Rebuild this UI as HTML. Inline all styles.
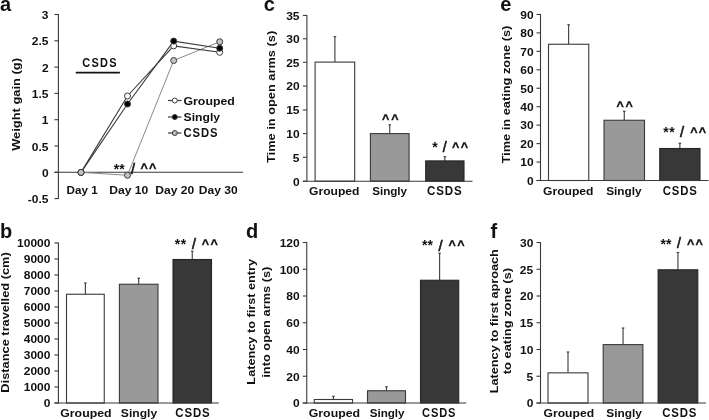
<!DOCTYPE html>
<html><head><meta charset="utf-8"><title>Figure</title>
<style>
html,body{margin:0;padding:0;background:#fff;}
svg{display:block;}
text{font-family:"Liberation Sans",Arial,Helvetica,sans-serif;fill:#111;}
</style></head><body>
<svg width="709" height="420" viewBox="0 0 709 420">
<rect x="0" y="0" width="709" height="420" fill="#ffffff"/>
<line x1="58.4" y1="14.0" x2="58.4" y2="199.1" stroke="#3a3a3a" stroke-width="1.1"/>
<line x1="54.4" y1="14.5" x2="58.4" y2="14.5" stroke="#3a3a3a" stroke-width="1.1"/>
<text x="41.86" y="19.0" font-size="11.6" font-weight="bold" textLength="6.67" lengthAdjust="spacingAndGlyphs">3</text>
<line x1="54.4" y1="40.8" x2="58.4" y2="40.8" stroke="#3a3a3a" stroke-width="1.1"/>
<text x="31.72" y="45.3" font-size="11.6" font-weight="bold" textLength="16.68" lengthAdjust="spacingAndGlyphs">2.5</text>
<line x1="54.4" y1="67.1" x2="58.4" y2="67.1" stroke="#3a3a3a" stroke-width="1.1"/>
<text x="41.92" y="71.6" font-size="11.6" font-weight="bold" textLength="6.67" lengthAdjust="spacingAndGlyphs">2</text>
<line x1="54.4" y1="93.4" x2="58.4" y2="93.4" stroke="#3a3a3a" stroke-width="1.1"/>
<text x="31.72" y="97.9" font-size="11.6" font-weight="bold" textLength="16.68" lengthAdjust="spacingAndGlyphs">1.5</text>
<line x1="54.4" y1="119.7" x2="58.4" y2="119.7" stroke="#3a3a3a" stroke-width="1.1"/>
<text x="41.74" y="124.2" font-size="11.6" font-weight="bold" textLength="6.67" lengthAdjust="spacingAndGlyphs">1</text>
<line x1="54.4" y1="146.0" x2="58.4" y2="146.0" stroke="#3a3a3a" stroke-width="1.1"/>
<text x="31.72" y="150.5" font-size="11.6" font-weight="bold" textLength="16.68" lengthAdjust="spacingAndGlyphs">0.5</text>
<line x1="54.4" y1="172.3" x2="58.4" y2="172.3" stroke="#3a3a3a" stroke-width="1.1"/>
<text x="41.92" y="176.8" font-size="11.6" font-weight="bold" textLength="6.67" lengthAdjust="spacingAndGlyphs">0</text>
<line x1="54.4" y1="198.6" x2="58.4" y2="198.6" stroke="#3a3a3a" stroke-width="1.1"/>
<text x="27.76" y="203.1" font-size="11.6" font-weight="bold" textLength="20.68" lengthAdjust="spacingAndGlyphs">-0.5</text>
<line x1="54.4" y1="172.3" x2="243" y2="172.3" stroke="#3a3a3a" stroke-width="1.1"/>
<polyline fill="none" stroke="#8a8a8a" stroke-width="1" points="81,172.4 127.5,175.25 173.7,60.5 219.7,41.75"/>
<polyline fill="none" stroke="#3a3a3a" stroke-width="1.1" points="81,172.4 127.5,96 173.7,45.9 219.7,52.3"/>
<polyline fill="none" stroke="#3a3a3a" stroke-width="1.1" points="81,172.4 127.5,104 173.7,41.1 219.7,48.2"/>
<circle cx="81" cy="172.4" r="3.0" fill="#fff" stroke="#3a3a3a" stroke-width="1"/>
<circle cx="127.5" cy="96" r="3.0" fill="#fff" stroke="#3a3a3a" stroke-width="1"/>
<circle cx="173.7" cy="45.9" r="3.0" fill="#fff" stroke="#3a3a3a" stroke-width="1"/>
<circle cx="219.7" cy="52.3" r="3.0" fill="#fff" stroke="#3a3a3a" stroke-width="1"/>
<circle cx="81" cy="172.4" r="3.0" fill="#000" stroke="#3a3a3a" stroke-width="1"/>
<circle cx="127.5" cy="104" r="3.0" fill="#000" stroke="#3a3a3a" stroke-width="1"/>
<circle cx="173.7" cy="41.1" r="3.0" fill="#000" stroke="#3a3a3a" stroke-width="1"/>
<circle cx="219.7" cy="48.2" r="3.0" fill="#000" stroke="#3a3a3a" stroke-width="1"/>
<circle cx="81" cy="172.4" r="3.0" fill="#c4c4c4" stroke="#3a3a3a" stroke-width="1"/>
<circle cx="127.5" cy="175.25" r="3.0" fill="#c4c4c4" stroke="#3a3a3a" stroke-width="1"/>
<circle cx="173.7" cy="60.5" r="3.0" fill="#c4c4c4" stroke="#3a3a3a" stroke-width="1"/>
<circle cx="219.7" cy="41.75" r="3.0" fill="#c4c4c4" stroke="#3a3a3a" stroke-width="1"/>
<line x1="75.75" y1="72.6" x2="119.9" y2="72.6" stroke="#111" stroke-width="1.6"/>
<text x="82.25" y="66.8" font-size="12" font-weight="bold" letter-spacing="1.4" textLength="35.6" lengthAdjust="spacingAndGlyphs">CSDS</text>
<line x1="168" y1="100.5" x2="181.4" y2="100.5" stroke="#3a3a3a" stroke-width="1.2"/>
<circle cx="174.8" cy="100.5" r="2.5" fill="#fff" stroke="#3a3a3a" stroke-width="1"/>
<text x="183.51" y="104.8" font-size="11.6" font-weight="bold" textLength="51.31" lengthAdjust="spacingAndGlyphs">Grouped</text>
<line x1="168" y1="117" x2="181.4" y2="117" stroke="#3a3a3a" stroke-width="1.2"/>
<circle cx="174.8" cy="117" r="2.5" fill="#000" stroke="#3a3a3a" stroke-width="1"/>
<text x="183.64" y="121.3" font-size="11.6" font-weight="bold" textLength="36.43" lengthAdjust="spacingAndGlyphs">Singly</text>
<line x1="168" y1="133" x2="181.4" y2="133" stroke="#3a3a3a" stroke-width="1.2"/>
<circle cx="174.8" cy="133" r="2.5" fill="#bdbdbd" stroke="#3a3a3a" stroke-width="1"/>
<text x="183.55" y="137.3" font-size="12" font-weight="bold" letter-spacing="0.9" textLength="34.73" lengthAdjust="spacingAndGlyphs">CSDS</text>
<text x="113.76" y="173.53" font-size="14" font-weight="bold" letter-spacing="0.08">**</text>
<text x="130.9" y="173.93" font-size="14.38" font-weight="normal" stroke="#111" stroke-width="0.6">/</text>
<text x="140.42" y="172.2" font-size="12.5" font-weight="bold" letter-spacing="1.36" stroke="#111" stroke-width="0.35">^^</text>
<text x="66.54" y="194" font-size="11.6" font-weight="bold" textLength="31.09" lengthAdjust="spacingAndGlyphs">Day 1</text>
<text x="109.21" y="194" font-size="11.6" font-weight="bold" textLength="38.96" lengthAdjust="spacingAndGlyphs">Day 10</text>
<text x="155.21" y="194" font-size="11.6" font-weight="bold" textLength="38.96" lengthAdjust="spacingAndGlyphs">Day 20</text>
<text x="198.82" y="194" font-size="11.6" font-weight="bold" textLength="38.86" lengthAdjust="spacingAndGlyphs">Day 30</text>
<text x="20.4" y="150.8" font-size="11.6" font-weight="bold" textLength="92.82" lengthAdjust="spacingAndGlyphs" transform="rotate(-90 20.4 150.8)">Weight gain (g)</text>
<text x="0" y="11.3" font-size="20" font-weight="bold">a</text>
<line x1="58.4" y1="242.5" x2="58.4" y2="403.5" stroke="#3a3a3a" stroke-width="1.1"/>
<line x1="54.4" y1="403.0" x2="58.4" y2="403.0" stroke="#3a3a3a" stroke-width="1.1"/>
<text x="43.82" y="407.3" font-size="11.6" font-weight="bold" textLength="6.67" lengthAdjust="spacingAndGlyphs">0</text>
<line x1="54.4" y1="387.0" x2="58.4" y2="387.0" stroke="#3a3a3a" stroke-width="1.1"/>
<text x="23.78" y="391.3" font-size="11.6" font-weight="bold" textLength="26.7" lengthAdjust="spacingAndGlyphs">1000</text>
<line x1="54.4" y1="371.0" x2="58.4" y2="371.0" stroke="#3a3a3a" stroke-width="1.1"/>
<text x="23.78" y="375.3" font-size="11.6" font-weight="bold" textLength="26.7" lengthAdjust="spacingAndGlyphs">2000</text>
<line x1="54.4" y1="355.0" x2="58.4" y2="355.0" stroke="#3a3a3a" stroke-width="1.1"/>
<text x="23.78" y="359.3" font-size="11.6" font-weight="bold" textLength="26.7" lengthAdjust="spacingAndGlyphs">3000</text>
<line x1="54.4" y1="339.0" x2="58.4" y2="339.0" stroke="#3a3a3a" stroke-width="1.1"/>
<text x="23.78" y="343.3" font-size="11.6" font-weight="bold" textLength="26.7" lengthAdjust="spacingAndGlyphs">4000</text>
<line x1="54.4" y1="323.0" x2="58.4" y2="323.0" stroke="#3a3a3a" stroke-width="1.1"/>
<text x="23.78" y="327.3" font-size="11.6" font-weight="bold" textLength="26.7" lengthAdjust="spacingAndGlyphs">5000</text>
<line x1="54.4" y1="307.0" x2="58.4" y2="307.0" stroke="#3a3a3a" stroke-width="1.1"/>
<text x="23.78" y="311.3" font-size="11.6" font-weight="bold" textLength="26.7" lengthAdjust="spacingAndGlyphs">6000</text>
<line x1="54.4" y1="291.0" x2="58.4" y2="291.0" stroke="#3a3a3a" stroke-width="1.1"/>
<text x="23.78" y="295.3" font-size="11.6" font-weight="bold" textLength="26.7" lengthAdjust="spacingAndGlyphs">7000</text>
<line x1="54.4" y1="275.0" x2="58.4" y2="275.0" stroke="#3a3a3a" stroke-width="1.1"/>
<text x="23.78" y="279.3" font-size="11.6" font-weight="bold" textLength="26.7" lengthAdjust="spacingAndGlyphs">8000</text>
<line x1="54.4" y1="259.0" x2="58.4" y2="259.0" stroke="#3a3a3a" stroke-width="1.1"/>
<text x="23.78" y="263.3" font-size="11.6" font-weight="bold" textLength="26.7" lengthAdjust="spacingAndGlyphs">9000</text>
<line x1="54.4" y1="243.0" x2="58.4" y2="243.0" stroke="#3a3a3a" stroke-width="1.1"/>
<text x="17.12" y="247.3" font-size="11.6" font-weight="bold" textLength="33.37" lengthAdjust="spacingAndGlyphs">10000</text>
<line x1="85.38" y1="283" x2="85.38" y2="294.25" stroke="#3a3a3a" stroke-width="1.1"/>
<line x1="84.08" y1="283" x2="86.67" y2="283" stroke="#3a3a3a" stroke-width="1.1"/>
<rect x="66.5" y="294.25" width="37.75" height="108.75" fill="#fff" stroke="#3a3a3a" stroke-width="1.1"/>
<line x1="138.7" y1="278.25" x2="138.7" y2="284.25" stroke="#3a3a3a" stroke-width="1.1"/>
<line x1="137.4" y1="278.25" x2="140.0" y2="278.25" stroke="#3a3a3a" stroke-width="1.1"/>
<rect x="119.4" y="284.25" width="38.6" height="118.75" fill="#999999" stroke="#3a3a3a" stroke-width="1.1"/>
<line x1="192.25" y1="251.25" x2="192.25" y2="259.5" stroke="#3a3a3a" stroke-width="1.1"/>
<line x1="190.95" y1="251.25" x2="193.55" y2="251.25" stroke="#3a3a3a" stroke-width="1.1"/>
<rect x="173" y="259.5" width="38.5" height="143.5" fill="#383838" stroke="#262626" stroke-width="1.1"/>
<line x1="54.4" y1="403" x2="218.75" y2="403" stroke="#3a3a3a" stroke-width="1.1"/>
<text x="60.26" y="417.0" font-size="11.6" font-weight="bold" textLength="51.31" lengthAdjust="spacingAndGlyphs">Grouped</text>
<text x="120.89" y="417.0" font-size="11.6" font-weight="bold" textLength="36.23" lengthAdjust="spacingAndGlyphs">Singly</text>
<text x="175.29" y="417.0" font-size="12" font-weight="bold" letter-spacing="0.9" textLength="35.26" lengthAdjust="spacingAndGlyphs">CSDS</text>
<text x="9.2" y="392.63" font-size="11.6" font-weight="bold" textLength="140.36" lengthAdjust="spacingAndGlyphs" transform="rotate(-90 9.2 392.63)">Distance travelled (cm)</text>
<text x="0" y="238" font-size="20" font-weight="bold">b</text>
<text x="174.86" y="248.73" font-size="14" font-weight="bold" letter-spacing="0.48">**</text>
<text x="192.04" y="248.93" font-size="14.11" font-weight="normal" stroke="#111" stroke-width="0.6">/</text>
<text x="201.72" y="247.5" font-size="12.5" font-weight="bold" letter-spacing="1.46" stroke="#111" stroke-width="0.35">^^</text>
<line x1="306.9" y1="14.9" x2="306.9" y2="181.7" stroke="#3a3a3a" stroke-width="1.1"/>
<line x1="302.9" y1="181.2" x2="306.9" y2="181.2" stroke="#3a3a3a" stroke-width="1.1"/>
<text x="293.02" y="185.5" font-size="11.6" font-weight="bold" textLength="6.67" lengthAdjust="spacingAndGlyphs">0</text>
<line x1="302.9" y1="157.3" x2="306.9" y2="157.3" stroke="#3a3a3a" stroke-width="1.1"/>
<text x="292.84" y="161.6" font-size="11.6" font-weight="bold" textLength="6.67" lengthAdjust="spacingAndGlyphs">5</text>
<line x1="302.9" y1="133.6" x2="306.9" y2="133.6" stroke="#3a3a3a" stroke-width="1.1"/>
<text x="286.36" y="137.9" font-size="11.6" font-weight="bold" textLength="13.35" lengthAdjust="spacingAndGlyphs">10</text>
<line x1="302.9" y1="110" x2="306.9" y2="110" stroke="#3a3a3a" stroke-width="1.1"/>
<text x="286.18" y="114.3" font-size="11.6" font-weight="bold" textLength="13.35" lengthAdjust="spacingAndGlyphs">15</text>
<line x1="302.9" y1="86.1" x2="306.9" y2="86.1" stroke="#3a3a3a" stroke-width="1.1"/>
<text x="286.36" y="90.4" font-size="11.6" font-weight="bold" textLength="13.35" lengthAdjust="spacingAndGlyphs">20</text>
<line x1="302.9" y1="62.3" x2="306.9" y2="62.3" stroke="#3a3a3a" stroke-width="1.1"/>
<text x="286.18" y="66.6" font-size="11.6" font-weight="bold" textLength="13.35" lengthAdjust="spacingAndGlyphs">25</text>
<line x1="302.9" y1="38.8" x2="306.9" y2="38.8" stroke="#3a3a3a" stroke-width="1.1"/>
<text x="286.36" y="43.1" font-size="11.6" font-weight="bold" textLength="13.35" lengthAdjust="spacingAndGlyphs">30</text>
<line x1="302.9" y1="15.4" x2="306.9" y2="15.4" stroke="#3a3a3a" stroke-width="1.1"/>
<text x="286.18" y="19.7" font-size="11.6" font-weight="bold" textLength="13.35" lengthAdjust="spacingAndGlyphs">35</text>
<line x1="334.9" y1="36.7" x2="334.9" y2="62.1" stroke="#3a3a3a" stroke-width="1.1"/>
<line x1="333.6" y1="36.7" x2="336.2" y2="36.7" stroke="#3a3a3a" stroke-width="1.1"/>
<rect x="315.1" y="62.1" width="39.6" height="119.1" fill="#fff" stroke="#3a3a3a" stroke-width="1.1"/>
<line x1="389.75" y1="124.8" x2="389.75" y2="133.6" stroke="#3a3a3a" stroke-width="1.1"/>
<line x1="388.45" y1="124.8" x2="391.05" y2="124.8" stroke="#3a3a3a" stroke-width="1.1"/>
<rect x="370.4" y="133.6" width="38.7" height="47.6" fill="#999999" stroke="#3a3a3a" stroke-width="1.1"/>
<line x1="444.85" y1="156.7" x2="444.85" y2="160.9" stroke="#3a3a3a" stroke-width="1.1"/>
<line x1="443.55" y1="156.7" x2="446.15" y2="156.7" stroke="#3a3a3a" stroke-width="1.1"/>
<rect x="425.7" y="160.9" width="38.3" height="20.3" fill="#383838" stroke="#262626" stroke-width="1.1"/>
<line x1="302.9" y1="181.2" x2="472.5" y2="181.2" stroke="#3a3a3a" stroke-width="1.1"/>
<text x="309.02" y="195.2" font-size="11.6" font-weight="bold" textLength="50.49" lengthAdjust="spacingAndGlyphs">Grouped</text>
<text x="372.15" y="195.2" font-size="11.6" font-weight="bold" textLength="34.91" lengthAdjust="spacingAndGlyphs">Singly</text>
<text x="427.04" y="195.2" font-size="12" font-weight="bold" letter-spacing="0.9" textLength="35.57" lengthAdjust="spacingAndGlyphs">CSDS</text>
<text x="275" y="163.03" font-size="11.6" font-weight="bold" textLength="132.24" lengthAdjust="spacingAndGlyphs" transform="rotate(-90 275 163.03)">Time in open arms (s)</text>
<text x="263.8" y="11.3" font-size="20" font-weight="bold">c</text>
<text x="382.12" y="122.8" font-size="12.5" font-weight="bold" letter-spacing="1.96" stroke="#111" stroke-width="0.35">^^</text>
<text x="432.16" y="151.73" font-size="14" font-weight="bold">*</text>
<text x="442.74" y="151.73" font-size="14.11" font-weight="normal" stroke="#111" stroke-width="0.6">/</text>
<text x="451.93" y="150.7" font-size="12.5" font-weight="bold" letter-spacing="1.46" stroke="#111" stroke-width="0.35">^^</text>
<line x1="540.5" y1="13.95" x2="540.5" y2="181.0" stroke="#3a3a3a" stroke-width="1.1"/>
<line x1="536.5" y1="180.5" x2="540.5" y2="180.5" stroke="#3a3a3a" stroke-width="1.1"/>
<text x="527.02" y="184.8" font-size="11.6" font-weight="bold" textLength="6.67" lengthAdjust="spacingAndGlyphs">0</text>
<line x1="536.5" y1="162.05" x2="540.5" y2="162.05" stroke="#3a3a3a" stroke-width="1.1"/>
<text x="520.36" y="166.35" font-size="11.6" font-weight="bold" textLength="13.35" lengthAdjust="spacingAndGlyphs">10</text>
<line x1="536.5" y1="143.6" x2="540.5" y2="143.6" stroke="#3a3a3a" stroke-width="1.1"/>
<text x="520.36" y="147.9" font-size="11.6" font-weight="bold" textLength="13.35" lengthAdjust="spacingAndGlyphs">20</text>
<line x1="536.5" y1="125.15" x2="540.5" y2="125.15" stroke="#3a3a3a" stroke-width="1.1"/>
<text x="520.36" y="129.45" font-size="11.6" font-weight="bold" textLength="13.35" lengthAdjust="spacingAndGlyphs">30</text>
<line x1="536.5" y1="106.7" x2="540.5" y2="106.7" stroke="#3a3a3a" stroke-width="1.1"/>
<text x="520.36" y="111.0" font-size="11.6" font-weight="bold" textLength="13.35" lengthAdjust="spacingAndGlyphs">40</text>
<line x1="536.5" y1="88.25" x2="540.5" y2="88.25" stroke="#3a3a3a" stroke-width="1.1"/>
<text x="520.36" y="92.55" font-size="11.6" font-weight="bold" textLength="13.35" lengthAdjust="spacingAndGlyphs">50</text>
<line x1="536.5" y1="69.8" x2="540.5" y2="69.8" stroke="#3a3a3a" stroke-width="1.1"/>
<text x="520.36" y="74.1" font-size="11.6" font-weight="bold" textLength="13.35" lengthAdjust="spacingAndGlyphs">60</text>
<line x1="536.5" y1="51.35" x2="540.5" y2="51.35" stroke="#3a3a3a" stroke-width="1.1"/>
<text x="520.36" y="55.65" font-size="11.6" font-weight="bold" textLength="13.35" lengthAdjust="spacingAndGlyphs">70</text>
<line x1="536.5" y1="32.9" x2="540.5" y2="32.9" stroke="#3a3a3a" stroke-width="1.1"/>
<text x="520.36" y="37.2" font-size="11.6" font-weight="bold" textLength="13.35" lengthAdjust="spacingAndGlyphs">80</text>
<line x1="536.5" y1="14.45" x2="540.5" y2="14.45" stroke="#3a3a3a" stroke-width="1.1"/>
<text x="520.36" y="18.75" font-size="11.6" font-weight="bold" textLength="13.35" lengthAdjust="spacingAndGlyphs">90</text>
<line x1="568.62" y1="24.75" x2="568.62" y2="44.25" stroke="#3a3a3a" stroke-width="1.1"/>
<line x1="567.33" y1="24.75" x2="569.92" y2="24.75" stroke="#3a3a3a" stroke-width="1.1"/>
<rect x="548.5" y="44.25" width="40.25" height="136.25" fill="#fff" stroke="#3a3a3a" stroke-width="1.1"/>
<line x1="624.25" y1="111.25" x2="624.25" y2="120.25" stroke="#3a3a3a" stroke-width="1.1"/>
<line x1="622.95" y1="111.25" x2="625.55" y2="111.25" stroke="#3a3a3a" stroke-width="1.1"/>
<rect x="604" y="120.25" width="40.5" height="60.25" fill="#999999" stroke="#3a3a3a" stroke-width="1.1"/>
<line x1="679.88" y1="143.25" x2="679.88" y2="148.5" stroke="#3a3a3a" stroke-width="1.1"/>
<line x1="678.58" y1="143.25" x2="681.17" y2="143.25" stroke="#3a3a3a" stroke-width="1.1"/>
<rect x="659.75" y="148.5" width="40.25" height="32.0" fill="#383838" stroke="#262626" stroke-width="1.1"/>
<line x1="536.5" y1="180.5" x2="708.5" y2="180.5" stroke="#3a3a3a" stroke-width="1.1"/>
<text x="543.02" y="195.2" font-size="11.6" font-weight="bold" textLength="50.49" lengthAdjust="spacingAndGlyphs">Grouped</text>
<text x="606.15" y="195.2" font-size="11.6" font-weight="bold" textLength="35.42" lengthAdjust="spacingAndGlyphs">Singly</text>
<text x="662.8" y="195.2" font-size="12" font-weight="bold" letter-spacing="0.9" textLength="34.94" lengthAdjust="spacingAndGlyphs">CSDS</text>
<text x="510" y="163.53" font-size="11.6" font-weight="bold" textLength="137.92" lengthAdjust="spacingAndGlyphs" transform="rotate(-90 510 163.53)">Time in eating zone (s)</text>
<text x="500.3" y="11.3" font-size="20" font-weight="bold">e</text>
<text x="616.52" y="110.3" font-size="12.5" font-weight="bold" letter-spacing="1.56" stroke="#111" stroke-width="0.35">^^</text>
<text x="663.36" y="136.63" font-size="14" font-weight="bold" letter-spacing="0.38">**</text>
<text x="679.96" y="136.92" font-size="14.65" font-weight="normal" stroke="#111" stroke-width="0.6">/</text>
<text x="690.23" y="135.6" font-size="12.5" font-weight="bold" letter-spacing="1.16" stroke="#111" stroke-width="0.35">^^</text>
<line x1="306.75" y1="242.0" x2="306.75" y2="403.5" stroke="#3a3a3a" stroke-width="1.1"/>
<line x1="302.75" y1="403.0" x2="306.75" y2="403.0" stroke="#3a3a3a" stroke-width="1.1"/>
<text x="293.02" y="407.3" font-size="11.6" font-weight="bold" textLength="6.67" lengthAdjust="spacingAndGlyphs">0</text>
<line x1="302.75" y1="376.25" x2="306.75" y2="376.25" stroke="#3a3a3a" stroke-width="1.1"/>
<text x="286.36" y="380.55" font-size="11.6" font-weight="bold" textLength="13.35" lengthAdjust="spacingAndGlyphs">20</text>
<line x1="302.75" y1="349.5" x2="306.75" y2="349.5" stroke="#3a3a3a" stroke-width="1.1"/>
<text x="286.36" y="353.8" font-size="11.6" font-weight="bold" textLength="13.35" lengthAdjust="spacingAndGlyphs">40</text>
<line x1="302.75" y1="322.75" x2="306.75" y2="322.75" stroke="#3a3a3a" stroke-width="1.1"/>
<text x="286.36" y="327.05" font-size="11.6" font-weight="bold" textLength="13.35" lengthAdjust="spacingAndGlyphs">60</text>
<line x1="302.75" y1="296.0" x2="306.75" y2="296.0" stroke="#3a3a3a" stroke-width="1.1"/>
<text x="286.36" y="300.3" font-size="11.6" font-weight="bold" textLength="13.35" lengthAdjust="spacingAndGlyphs">80</text>
<line x1="302.75" y1="269.25" x2="306.75" y2="269.25" stroke="#3a3a3a" stroke-width="1.1"/>
<text x="279.7" y="273.55" font-size="11.6" font-weight="bold" textLength="20.02" lengthAdjust="spacingAndGlyphs">100</text>
<line x1="302.75" y1="242.5" x2="306.75" y2="242.5" stroke="#3a3a3a" stroke-width="1.1"/>
<text x="279.7" y="246.8" font-size="11.6" font-weight="bold" textLength="20.02" lengthAdjust="spacingAndGlyphs">120</text>
<line x1="333.38" y1="396.25" x2="333.38" y2="399.5" stroke="#3a3a3a" stroke-width="1.1"/>
<line x1="332.07" y1="396.25" x2="334.68" y2="396.25" stroke="#3a3a3a" stroke-width="1.1"/>
<rect x="314.25" y="399.5" width="38.25" height="3.5" fill="#fff" stroke="#3a3a3a" stroke-width="1.1"/>
<line x1="386.5" y1="386.75" x2="386.5" y2="390.75" stroke="#3a3a3a" stroke-width="1.1"/>
<line x1="385.2" y1="386.75" x2="387.8" y2="386.75" stroke="#3a3a3a" stroke-width="1.1"/>
<rect x="367.5" y="390.75" width="38.0" height="12.25" fill="#999999" stroke="#3a3a3a" stroke-width="1.1"/>
<line x1="439.62" y1="253.25" x2="439.62" y2="280.25" stroke="#3a3a3a" stroke-width="1.1"/>
<line x1="438.32" y1="253.25" x2="440.93" y2="253.25" stroke="#3a3a3a" stroke-width="1.1"/>
<rect x="420.5" y="280.25" width="38.25" height="122.75" fill="#383838" stroke="#262626" stroke-width="1.1"/>
<line x1="302.75" y1="403" x2="466.25" y2="403" stroke="#3a3a3a" stroke-width="1.1"/>
<text x="308.76" y="417.0" font-size="11.6" font-weight="bold" textLength="51.31" lengthAdjust="spacingAndGlyphs">Grouped</text>
<text x="369.65" y="417.0" font-size="11.6" font-weight="bold" textLength="34.91" lengthAdjust="spacingAndGlyphs">Singly</text>
<text x="422.06" y="417.0" font-size="12" font-weight="bold" letter-spacing="0.9" textLength="34.2" lengthAdjust="spacingAndGlyphs">CSDS</text>
<text x="255" y="384.63" font-size="11.6" font-weight="bold" textLength="125.71" lengthAdjust="spacingAndGlyphs" transform="rotate(-90 255 384.63)">Latency to first entry</text>
<text x="270.2" y="377.7" font-size="11.6" font-weight="bold" textLength="111.11" lengthAdjust="spacingAndGlyphs" transform="rotate(-90 270.2 377.7)">into open arms (s)</text>
<text x="246" y="238" font-size="20" font-weight="bold">d</text>
<text x="422.06" y="250.33" font-size="14" font-weight="bold" letter-spacing="-0.12">**</text>
<text x="438.38" y="250.62" font-size="14.52" font-weight="normal" stroke="#111" stroke-width="0.6">/</text>
<text x="448.53" y="249.3" font-size="12.5" font-weight="bold" letter-spacing="1.46" stroke="#111" stroke-width="0.35">^^</text>
<line x1="540.5" y1="242.0" x2="540.5" y2="403.5" stroke="#3a3a3a" stroke-width="1.1"/>
<line x1="536.5" y1="403.0" x2="540.5" y2="403.0" stroke="#3a3a3a" stroke-width="1.1"/>
<text x="526.72" y="407.3" font-size="11.6" font-weight="bold" textLength="6.67" lengthAdjust="spacingAndGlyphs">0</text>
<line x1="536.5" y1="376.25" x2="540.5" y2="376.25" stroke="#3a3a3a" stroke-width="1.1"/>
<text x="526.54" y="380.55" font-size="11.6" font-weight="bold" textLength="6.67" lengthAdjust="spacingAndGlyphs">5</text>
<line x1="536.5" y1="349.5" x2="540.5" y2="349.5" stroke="#3a3a3a" stroke-width="1.1"/>
<text x="520.06" y="353.8" font-size="11.6" font-weight="bold" textLength="13.35" lengthAdjust="spacingAndGlyphs">10</text>
<line x1="536.5" y1="322.75" x2="540.5" y2="322.75" stroke="#3a3a3a" stroke-width="1.1"/>
<text x="519.88" y="327.05" font-size="11.6" font-weight="bold" textLength="13.35" lengthAdjust="spacingAndGlyphs">15</text>
<line x1="536.5" y1="296.0" x2="540.5" y2="296.0" stroke="#3a3a3a" stroke-width="1.1"/>
<text x="520.06" y="300.3" font-size="11.6" font-weight="bold" textLength="13.35" lengthAdjust="spacingAndGlyphs">20</text>
<line x1="536.5" y1="269.25" x2="540.5" y2="269.25" stroke="#3a3a3a" stroke-width="1.1"/>
<text x="519.88" y="273.55" font-size="11.6" font-weight="bold" textLength="13.35" lengthAdjust="spacingAndGlyphs">25</text>
<line x1="536.5" y1="242.5" x2="540.5" y2="242.5" stroke="#3a3a3a" stroke-width="1.1"/>
<text x="520.06" y="246.8" font-size="11.6" font-weight="bold" textLength="13.35" lengthAdjust="spacingAndGlyphs">30</text>
<line x1="568.0" y1="352" x2="568.0" y2="372.85" stroke="#3a3a3a" stroke-width="1.1"/>
<line x1="566.7" y1="352" x2="569.3" y2="352" stroke="#3a3a3a" stroke-width="1.1"/>
<rect x="548" y="372.85" width="40" height="30.15" fill="#fff" stroke="#3a3a3a" stroke-width="1.1"/>
<line x1="623.05" y1="328" x2="623.05" y2="344.6" stroke="#3a3a3a" stroke-width="1.1"/>
<line x1="621.75" y1="328" x2="624.35" y2="328" stroke="#3a3a3a" stroke-width="1.1"/>
<rect x="603.2" y="344.6" width="39.7" height="58.4" fill="#999999" stroke="#3a3a3a" stroke-width="1.1"/>
<line x1="677.95" y1="252.5" x2="677.95" y2="269.8" stroke="#3a3a3a" stroke-width="1.1"/>
<line x1="676.65" y1="252.5" x2="679.25" y2="252.5" stroke="#3a3a3a" stroke-width="1.1"/>
<rect x="658.1" y="269.8" width="39.7" height="133.2" fill="#383838" stroke="#262626" stroke-width="1.1"/>
<line x1="536.5" y1="403" x2="706" y2="403" stroke="#3a3a3a" stroke-width="1.1"/>
<text x="543.51" y="417.0" font-size="11.6" font-weight="bold" textLength="50.59" lengthAdjust="spacingAndGlyphs">Grouped</text>
<text x="606.24" y="417.0" font-size="11.6" font-weight="bold" textLength="35.62" lengthAdjust="spacingAndGlyphs">Singly</text>
<text x="662.14" y="417.0" font-size="12" font-weight="bold" letter-spacing="0.9" textLength="35.15" lengthAdjust="spacingAndGlyphs">CSDS</text>
<text x="498.3" y="393.33" font-size="11.6" font-weight="bold" textLength="144.21" lengthAdjust="spacingAndGlyphs" transform="rotate(-90 498.3 393.33)">Latency to first aproach</text>
<text x="511" y="374.33" font-size="11.6" font-weight="bold" textLength="106.34" lengthAdjust="spacingAndGlyphs" transform="rotate(-90 511 374.33)">to eating zone (s)</text>
<text x="490.5" y="238" font-size="20" font-weight="bold">f</text>
<text x="660.56" y="248.63" font-size="14" font-weight="bold" letter-spacing="-0.12">**</text>
<text x="677.09" y="248.33" font-size="14.11" font-weight="normal" stroke="#111" stroke-width="0.6">/</text>
<text x="687.12" y="247.6" font-size="12.5" font-weight="bold" letter-spacing="1.16" stroke="#111" stroke-width="0.35">^^</text>
</svg>
</body></html>
